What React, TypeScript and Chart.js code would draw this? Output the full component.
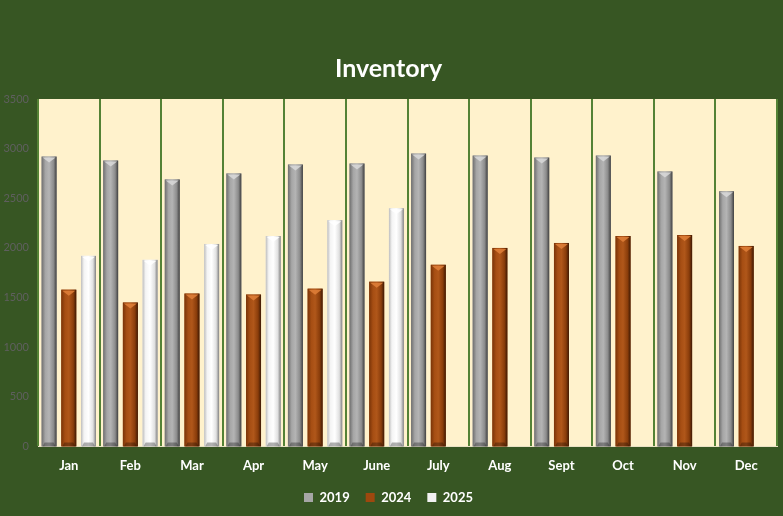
import { useEffect, useRef } from 'react';
import { Chart, registerables } from 'chart.js';

Chart.register(...registerables);

const months = ['Jan', 'Feb', 'Mar', 'Apr', 'May', 'June', 'July', 'Aug', 'Sept', 'Oct', 'Nov', 'Dec'];
const sales2019 = [2920, 2880, 2690, 2750, 2840, 2850, 2950, 2930, 2910, 2930, 2770, 2570];
const sales2024 = [1580, 1450, 1540, 1530, 1590, 1660, 1830, 2000, 2050, 2120, 2130, 2020];
const sales2025 = [1920, 1880, 2040, 2120, 2280, 2400, null, null, null, null, null, null];

const BG = '#375623';
const PLOT_BG = '#FFF2CC';
const GRID = '#548235';

// horizontal shading for the bevelled bars
const shades: Record<number, [number, string][]> = {
  0: [[0, '#6e6e6e'], [0.25, '#a6a6a6'], [0.5, '#b4b4b4'], [0.8, '#8c8c8c'], [1, '#3f3f3f']],
  1: [[0, '#7a3408'], [0.25, '#a64e13'], [0.5, '#b0571a'], [0.8, '#8a3d0b'], [1, '#3e1903']],
  2: [[0, '#bdbdbd'], [0.2, '#f4f4f4'], [0.5, '#ffffff'], [0.8, '#e0e0e0'], [1, '#7f7f7f']],
};
const tips = ['#d9d9d9', '#e0803a', '#ffffff'];

const plotBackground = {
  id: 'plotBackground',
  beforeDraw(chart: Chart) {
    const { ctx, chartArea } = chart;
    ctx.save();
    ctx.fillStyle = BG;
    ctx.fillRect(0, 0, chart.width, chart.height);
    ctx.fillStyle = PLOT_BG;
    ctx.fillRect(chartArea.left, chartArea.top, chartArea.right - chartArea.left, chartArea.bottom - chartArea.top);
    ctx.restore();
  },
};

const bevelBars = {
  id: 'bevelBars',
  afterDatasetsDraw(chart: Chart) {
    const { ctx } = chart;
    chart.data.datasets.forEach((_, di) => {
      const meta = chart.getDatasetMeta(di);
      meta.data.forEach((el: any, i: number) => {
        const v = chart.data.datasets[di].data[i];
        if (v === null || v === undefined) return;
        const { x, y, base, width } = el.getProps(['x', 'y', 'base', 'width'], true);
        const left = x - width / 2;
        const g = ctx.createLinearGradient(left, 0, left + width, 0);
        shades[di].forEach(([p, c]) => g.addColorStop(p, c));
        ctx.save();
        ctx.fillStyle = g;
        ctx.fillRect(left, y, width, base - y);
        // top tip
        ctx.fillStyle = tips[di];
        ctx.globalAlpha = 0.85;
        ctx.beginPath();
        ctx.moveTo(left + 1, y + 1);
        ctx.lineTo(left + width - 1, y + 1);
        ctx.lineTo(x, y + 6);
        ctx.closePath();
        ctx.fill();
        // bottom bevel
        ctx.globalAlpha = 0.3;
        ctx.fillStyle = '#000000';
        ctx.beginPath();
        ctx.moveTo(left + 1, base);
        ctx.lineTo(left + width - 1, base);
        ctx.lineTo(left + width - 3, base - 4);
        ctx.lineTo(left + 3, base - 4);
        ctx.closePath();
        ctx.fill();
        ctx.restore();
      });
    });
  },
};

const InventoryChart: React.FC = () => {
  const chartRef = useRef<HTMLCanvasElement>(null);
  const chartInstanceRef = useRef<Chart | null>(null);

  useEffect(() => {
    const canvas = chartRef.current;
    if (!canvas) return;
    const ctx = canvas.getContext('2d');
    if (!ctx) return;

    if (chartInstanceRef.current) {
      chartInstanceRef.current.destroy();
    }

    chartInstanceRef.current = new Chart(ctx, {
      type: 'bar',
      data: {
        labels: months,
        datasets: [
          { label: '2019', data: sales2019, backgroundColor: '#a6a6a6' },
          { label: '2024', data: sales2024, backgroundColor: '#9e480e' },
          { label: '2025', data: sales2025, backgroundColor: '#f2f2f2' },
        ],
      },
      options: {
        responsive: false,
        animation: false,
        datasets: {
          bar: {
            categoryPercentage: 0.96,
            barPercentage: 0.76,
          },
        },
        layout: {
          padding: { left: 0, right: 6, top: 0, bottom: 2 },
        },
        plugins: {
          title: {
            display: true,
            text: 'Inventory',
            color: '#ffffff',
            font: { family: 'Lato', size: 25, weight: 'bold' },
            padding: { top: 54, bottom: 15 },
          },
          legend: {
            position: 'bottom',
            labels: {
              color: '#ffffff',
              font: { family: 'Lato', size: 13, weight: 'bold' },
              boxWidth: 9,
              boxHeight: 9,
              padding: 16,
            },
          },
          tooltip: { enabled: false },
        },
        scales: {
          x: {
            grid: {
              offset: true,
              color: GRID,
              lineWidth: 2,
              drawTicks: false,
            },
            border: { display: true, color: '#e9e2c4', width: 1 },
            ticks: {
              color: '#ffffff',
              font: { family: 'Lato', size: 13, weight: 'bold' },
              padding: 12,
            },
            afterFit: (scale: any) => {
              scale.height = 28.5;
            },
          },
          y: {
            min: 0,
            max: 3500,
            ticks: {
              stepSize: 500,
              color: '#5f5f5f',
              font: { family: 'Lato', size: 11 },
              padding: 9,
              callback: (value: any) => String(value),
            },
            grid: { display: false, drawTicks: false },
            border: { display: false },
            afterFit: (scale: any) => {
              scale.width = 38;
            },
          },
        },
      },
      plugins: [plotBackground, bevelBars],
    });

    return () => {
      if (chartInstanceRef.current) {
        chartInstanceRef.current.destroy();
      }
    };
  }, []);

  return (
    <div style={{ position: 'fixed', left: 0, top: 0, width: 783, height: 516, background: BG }}>
      <canvas ref={chartRef} width={783} height={516}></canvas>
    </div>
  );
};

export default function App() {
  return <InventoryChart />;
}
